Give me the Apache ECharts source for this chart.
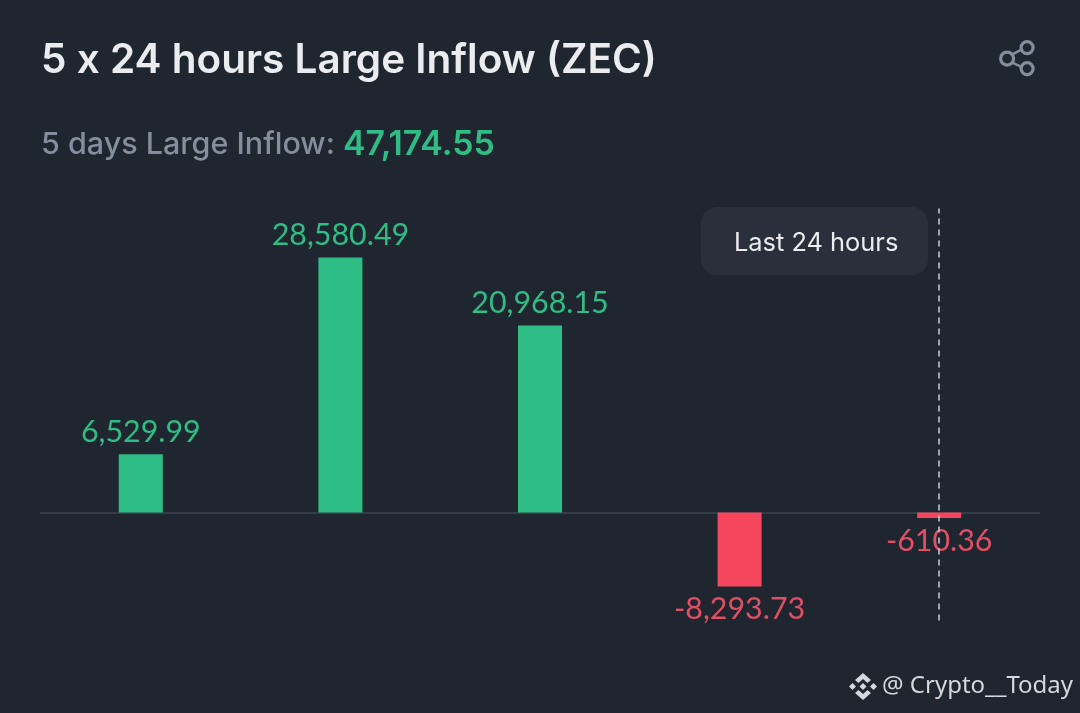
<!DOCTYPE html>
<html>
<head>
<meta charset="utf-8">
<style>html,body{margin:0;padding:0;background:#1f2630}#c{width:1080px;height:713px}</style>
<script src="https://cdn.jsdelivr.net/npm/echarts@6/dist/echarts.min.js"></script>
</head>
<body>
<div id="c"></div>
<script>
const categories = ['Day 1', 'Day 2', 'Day 3', 'Day 4', 'Last 24 hours'];
const values = [6529.99, 28580.49, 20968.15, -8293.73, -610.36];
const titleText = '5 x 24 hours Large Inflow (ZEC)';
const subtitleLabel = '5 days Large Inflow:';
const subtitleValue = '47,174.55';
const tooltipText = 'Last 24 hours';
const watermark = '@ Crypto__Today';

const GREEN = '#2ebd85', RED = '#f6465d';
const fmt = v => v.toLocaleString('en-US', {minimumFractionDigits: 2, maximumFractionDigits: 2});
const chart = echarts.init(document.getElementById('c'), null, {renderer: 'canvas'});
chart.setOption({
  backgroundColor: '#1f2630',
  animation: false,
  title: {
    left: 41, top: 36, padding: 0,
    text: titleText,
    textStyle: {color: '#eaecef', fontFamily: 'Inter', fontWeight: 600, fontSize: 40.5, lineHeight: 50},
    subtext: '{a|' + subtitleLabel + ' }{b|' + subtitleValue + '}',
    itemGap: 42,
    subtextStyle: {
      rich: {
        a: {color: '#848e9c', fontFamily: 'Inter', fontWeight: 500, fontSize: 30.5},
        b: {color: GREEN, fontFamily: 'Inter', fontWeight: 600, fontSize: 33.8}
      }
    }
  },
  grid: {left: 41, right: 41, top: 208.5, bottom: 92.5},
  xAxis: {
    type: 'category', data: categories,
    axisLine: {show: true, onZero: true, lineStyle: {color: '#363c47', width: 2}},
    axisTick: {show: false}, axisLabel: {show: false}, splitLine: {show: false}
  },
  yAxis: {type: 'value', min: -12108, max: 34080, show: false, splitLine: {show: false}},
  series: [{
    type: 'bar',
    barWidth: 44,
    data: values.map(v => ({
      value: v,
      itemStyle: {color: v >= 0 ? GREEN : RED},
      label: {
        show: true,
        position: v >= 0 ? 'top' : 'bottom',
        distance: v >= 0 ? 7 : 8,
        color: v >= 0 ? GREEN : '#e04f64',
        fontFamily: 'Lato', fontSize: 30.4,
        formatter: () => fmt(v)
      }
    })),
    markLine: {
      silent: true,
      symbol: 'none',
      label: {show: false},
      lineStyle: {color: '#c9ced6', type: [6, 5], width: 1.5},
      data: [{xAxis: categories[categories.length - 1]}]
    }
  }],
  graphic: [
    {type: 'rect', left: 701, top: 207, z: 10,
      shape: {width: 227, height: 68, r: 16}, style: {fill: '#2a2f3b'}},
    {type: 'text', left: 734, top: 231, z: 11,
      style: {text: tooltipText, fill: '#eaecef', font: '400 25.4px Inter'}},
    {type: 'group', left: 999, top: 40, z: 10, children: [
      {type: 'line', shape: {x1: 8, y1: 18, x2: 29, y2: 7}, style: {stroke: '#848e9c', lineWidth: 2.5}},
      {type: 'line', shape: {x1: 8, y1: 20, x2: 29, y2: 30}, style: {stroke: '#848e9c', lineWidth: 2.5}},
      {type: 'circle', shape: {cx: 9, cy: 19, r: 6.5}, style: {fill: '#1f2630', stroke: '#848e9c', lineWidth: 3.2}},
      {type: 'circle', shape: {cx: 29, cy: 8, r: 6}, style: {fill: '#1f2630', stroke: '#848e9c', lineWidth: 3.2}},
      {type: 'circle', shape: {cx: 29, cy: 29, r: 6}, style: {fill: '#1f2630', stroke: '#848e9c', lineWidth: 3.2}}
    ]},
    {type: 'group', left: 849, top: 673, z: 10, children: [
      {type: 'polygon', shape: {points: [[14, 0], [22, 7], [18.5, 10], [14, 6], [9.5, 10], [6, 7]]}, style: {fill: '#d5d8dc'}},
      {type: 'polygon', shape: {points: [[14, 27], [22, 20], [18.5, 17], [14, 21], [9.5, 17], [6, 20]]}, style: {fill: '#d5d8dc'}},
      {type: 'polygon', shape: {points: [[14, 10], [17.5, 13.5], [14, 17], [10.5, 13.5]]}, style: {fill: '#d5d8dc'}},
      {type: 'polygon', shape: {points: [[3.5, 10], [7, 13.5], [3.5, 17], [0, 13.5]]}, style: {fill: '#d5d8dc'}},
      {type: 'polygon', shape: {points: [[24.5, 10], [28, 13.5], [24.5, 17], [21, 13.5]]}, style: {fill: '#d5d8dc'}}
    ]},
    {type: 'text', left: 882, top: 674, z: 10,
      style: {text: watermark, fill: '#d5d8dc', font: '400 24px "Noto Sans"'}}
  ]
});
</script>
</body>
</html>
